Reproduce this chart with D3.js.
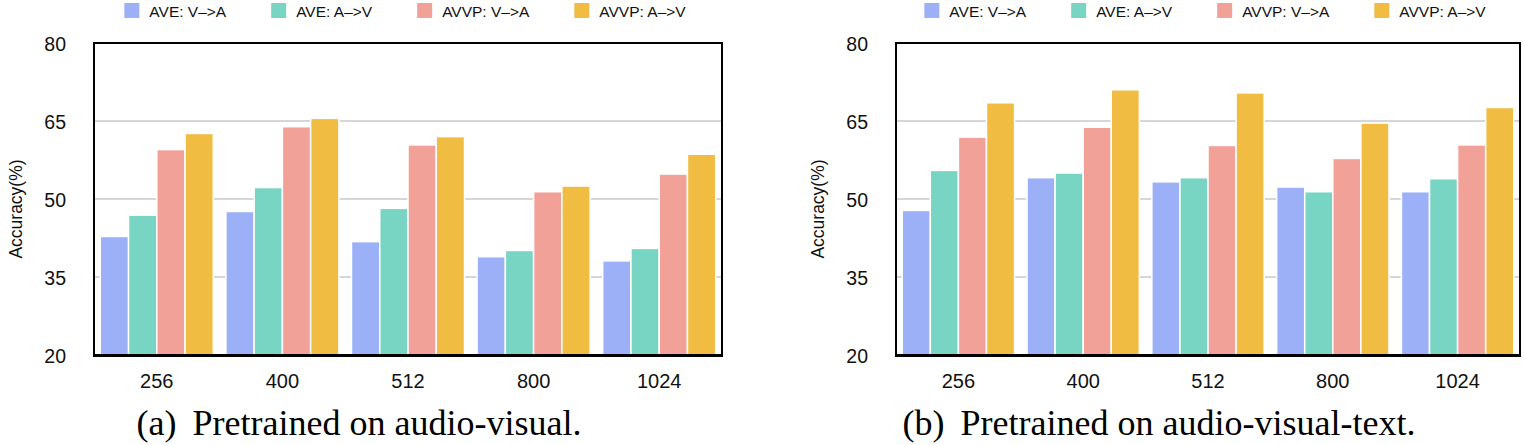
<!DOCTYPE html>
<html>
<head>
<meta charset="utf-8">
<script src="https://cdn.jsdelivr.net/npm/d3@7"></script>
<style>
  body { margin: 0; background: #fff; }
  text { font-family: "Liberation Sans", Arial, sans-serif; fill: #111; }
  .caption { font-family: "Liberation Serif", "Times New Roman", serif; fill: #000; }
</style>
</head>
<body>
<div id="chart"></div>
<script>

// data
var categories = ["256", "400", "512", "800", "1024"];
var seriesNames = ["AVE: V–>A", "AVE: A–>V", "AVVP: V–>A", "AVVP: A–>V"];
var yTicks = [20, 35, 50, 65, 80];

// (a) pretrained on audio-visual
var avAveVA  = [42.8, 47.6, 41.8, 38.9, 38.1];
var avAveAV  = [46.9, 52.2, 48.2, 40.1, 40.5];
var avAvvpVA = [59.5, 63.9, 60.4, 51.4, 54.8];
var avAvvpAV = [62.6, 65.5, 62.0, 52.5, 58.6];

// (b) pretrained on audio-visual-text
var avtAveVA  = [47.8, 54.1, 53.3, 52.3, 51.4];
var avtAveAV  = [55.5, 55.0, 54.1, 51.4, 53.9];
var avtAvvpVA = [61.9, 63.8, 60.3, 57.8, 60.4];
var avtAvvpAV = [68.5, 71.0, 70.4, 64.6, 67.6];

var colors = ["#9bb0f7", "#79d5c3", "#f1a197", "#f0bc42"];

var svg = d3.select("#chart").append("svg")
    .attr("width", 1524)
    .attr("height", 445);

svg.append("rect")
    .attr("width", 1524)
    .attr("height", 445)
    .style("fill", "#fff");

function drawPanel(left, right, series, captionTag, captionText){
  var top = 43, bottom = 355;
  var width = right - left;

  var x = d3.scaleBand()
      .domain(categories)
      .range([left, right])
      .paddingInner(0.1)
      .paddingOuter(0.05);

  var xs = d3.scaleBand()
      .domain(d3.range(seriesNames.length))
      .range([0, x.bandwidth()]);

  var y = d3.scaleLinear()
      .domain([20, 80])
      .range([bottom, top]);

  var g = svg.append("g");

  // grid lines
  g.selectAll(".grid")
      .data(yTicks)
    .enter().append("line")
      .attr("x1", left)
      .attr("x2", right)
      .attr("y1", function(d) { return y(d); })
      .attr("y2", function(d) { return y(d); })
      .style("stroke", "#c8c8c8")
      .style("stroke-width", 1.3);

  // bars
  var rows = [];
  categories.forEach(function(c, i){
    series.forEach(function(s, j){
      rows.push({cat: c, k: j, v: s[i]});
    });
  });

  g.selectAll(".bar")
      .data(rows)
    .enter().append("rect")
      .attr("class", "bar")
      .attr("x", function(d) { return x(d.cat) + xs(d.k); })
      .attr("y", function(d) { return y(d.v); })
      .attr("width", xs.bandwidth())
      .attr("height", function(d) { return y(20) - y(d.v); })
      .style("fill", function(d) { return colors[d.k]; })
      .style("stroke", "#fff")
      .style("stroke-width", 1.5);

  // frame
  g.append("rect")
      .attr("x", left)
      .attr("y", top)
      .attr("width", width)
      .attr("height", bottom - top)
      .style("fill", "none")
      .style("stroke", "#000")
      .style("stroke-width", 2);

  g.append("line")
      .attr("x1", left - 1)
      .attr("x2", right + 1)
      .attr("y1", bottom + 0.5)
      .attr("y2", bottom + 0.5)
      .style("stroke", "#000")
      .style("stroke-width", 3);

  // y axis labels
  var yAxis = d3.axisLeft(y)
      .tickValues(yTicks)
      .tickSize(0)
      .tickPadding(28);

  var ya = g.append("g")
      .attr("transform", "translate(" + left + ",0)")
      .call(yAxis);
  ya.select(".domain").remove();
  ya.selectAll("text")
      .attr("dy", "0.4em")
      .style("font-size", "19.5px")
      .style("font-family", "'Liberation Sans', Arial, sans-serif")
      .style("fill", "#111");

  // x axis labels
  var xAxis = d3.axisBottom(x)
      .tickSize(0)
      .tickPadding(19);

  var xa = g.append("g")
      .attr("transform", "translate(0," + bottom + ")")
      .call(xAxis);
  xa.select(".domain").remove();
  xa.selectAll("text")
      .style("font-size", "20px")
      .style("font-family", "'Liberation Sans', Arial, sans-serif")
      .style("fill", "#111");

  // y axis title
  g.append("text")
      .attr("transform", "translate(" + (left - 72) + ",209) rotate(-90)")
      .style("text-anchor", "middle")
      .style("font-size", "17.5px")
      .text("Accuracy(%)");

  // legend
  var legend = g.append("g");
  var px = 0;
  seriesNames.forEach(function(name, j){
    var item = legend.append("g").attr("transform", "translate(" + px + ",0)");
    item.append("rect")
        .attr("x", 0)
        .attr("y", 3)
        .attr("width", 15)
        .attr("height", 15)
        .style("fill", colors[j]);
    var t = item.append("text")
        .attr("x", 25)
        .attr("y", 17)
        .style("font-size", "15.5px")
        .text(name);
    px += 25 + t.node().getComputedTextLength() + 45;
  });
  var legendWidth = px - 45;
  legend.attr("transform", "translate(" + ((left + right) / 2 - 3 - legendWidth / 2) + ",0)");

  // caption
  var cap = g.append("text")
      .attr("class", "caption")
      .attr("x", (left + right) / 2 - 49)
      .attr("y", 435)
      .style("text-anchor", "middle")
      .style("font-size", "36px");
  cap.append("tspan").text(captionTag);
  cap.append("tspan").attr("dx", 7).text(" " + captionText);
}

drawPanel(94, 722, [avAveVA, avAveAV, avAvvpVA, avAvvpAV], "(a)", "Pretrained on audio-visual.");
drawPanel(896, 1520, [avtAveVA, avtAveAV, avtAvvpVA, avtAvvpAV], "(b)", "Pretrained on audio-visual-text.");

</script>
</body>
</html>
